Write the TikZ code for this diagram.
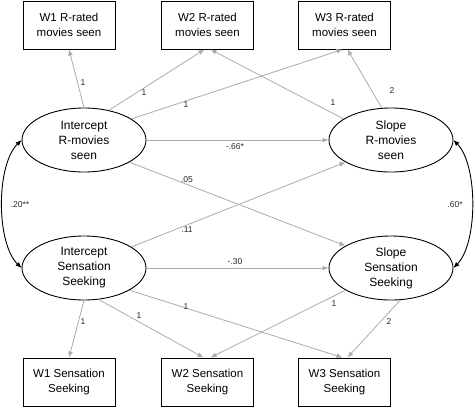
\documentclass[tikz,border=0pt]{standalone}
\usepackage{fontspec}
\setmainfont{Liberation Sans}
\usetikzlibrary{arrows.meta,shapes.geometric}
\begin{document}
\begin{tikzpicture}[x=1pt,y=-1pt,
  obsbox/.style={draw=black,line width=0.9pt,minimum width=92pt,minimum height=48pt,inner sep=0pt,align=center,font=\fontsize{11.5}{15}\selectfont},
  latent/.style={draw=black,ellipse,line width=0.9pt,minimum width=124pt,minimum height=64pt,inner sep=0pt,align=center,font=\fontsize{12}{15}\selectfont},
  grayarrow/.style={draw=black!33,line width=0.8pt,-{Latex[length=6pt,width=5pt]}},
  cov/.style={draw=black,line width=0.9pt,{Latex[length=6pt,width=5pt]}-{Latex[length=6pt,width=5pt]}},
  lab/.style={font=\fontsize{8.5}{10}\selectfont,text=black!85,inner sep=0pt}]
\useasboundingbox (0,0) rectangle (474,408);
% observed
\node[obsbox] (b1) at (69,25) {W1 R-rated\\movies seen};
\node[obsbox] (b2) at (207.5,25) {W2 R-rated\\movies seen};
\node[obsbox] (b3) at (344.5,25) {W3 R-rated\\movies seen};
\node[obsbox] (w1) at (69,382) {W1 Sensation\\Seeking};
\node[obsbox] (w2) at (207.5,382) {W2 Sensation\\Seeking};
\node[obsbox] (w3) at (344.5,382) {W3 Sensation\\Seeking};
% latent
\node[latent] (IR) at (84,140) {Intercept\\R-movies\\seen};
\node[latent] (SR) at (391,140) {Slope\\R-movies\\seen};
\node[latent] (IS) at (84,268) {Intercept\\Sensation\\Seeking};
\node[latent] (SS) at (391,268) {Slope\\Sensation\\Seeking};
% loadings top
\draw[grayarrow] (IR.north) -- (b1.south);
\draw[grayarrow] (IR.50) -- ([xshift=-3pt]b2.south);
\draw[grayarrow] (IR.24) -- ([xshift=-2pt]b3.south);
\draw[grayarrow] (SR.156) -- ([xshift=3pt]b2.south);
\draw[grayarrow] (SR.106) -- ([xshift=3pt]b3.south);
% loadings bottom
\draw[grayarrow] (IS.south) -- (w1.north);
\draw[grayarrow] (IS.-65) -- ([xshift=-4pt]w2.north);
\draw[grayarrow] (IS.-26) -- ([xshift=-2pt]w3.north);
\draw[grayarrow] (SS.-154) -- ([xshift=3pt]w2.north);
\draw[grayarrow] (SS.-74) -- ([xshift=3pt]w3.north);
% structural
\draw[grayarrow] (IR.east) -- (SR.west);
\draw[grayarrow] (IS.east) -- (SS.west);
\draw[grayarrow] (IR.-26) -- (SS.154);
\draw[grayarrow] (IS.24) -- (SR.-154);
% covariances
\draw[cov] (IR.west) .. controls (-4,165) and (-4,243) .. (IS.west);
\draw[cov] (SR.east) .. controls (478,165) and (478,243) .. (SS.east);
% labels
\node[lab] (l1) at (83,83) {1};
\node[lab] (l2) at (144,93) {1};
\node[lab] (l3) at (186,105) {1};
\node[lab] (l4) at (333,103) {1};
\node[lab] (l5) at (392,91) {2};
\node[lab] (l6) at (235,147) {-.66*};
\node[lab] (l7) at (187,180) {.05};
\node[lab] (l8) at (187,230) {.11};
\node[lab] (l9) at (235,262) {-.30};
\node[lab] (l10) at (83,322) {1};
\node[lab] (l11) at (139,316) {1};
\node[lab] (l12) at (186,307) {1};
\node[lab] (l13) at (334,304) {1};
\node[lab] (l14) at (389,322) {2};
\node[lab] (l15) at (20,205) {.20**};
\node[lab] (l16) at (455,205) {.60*};
\end{tikzpicture}
\end{document}
